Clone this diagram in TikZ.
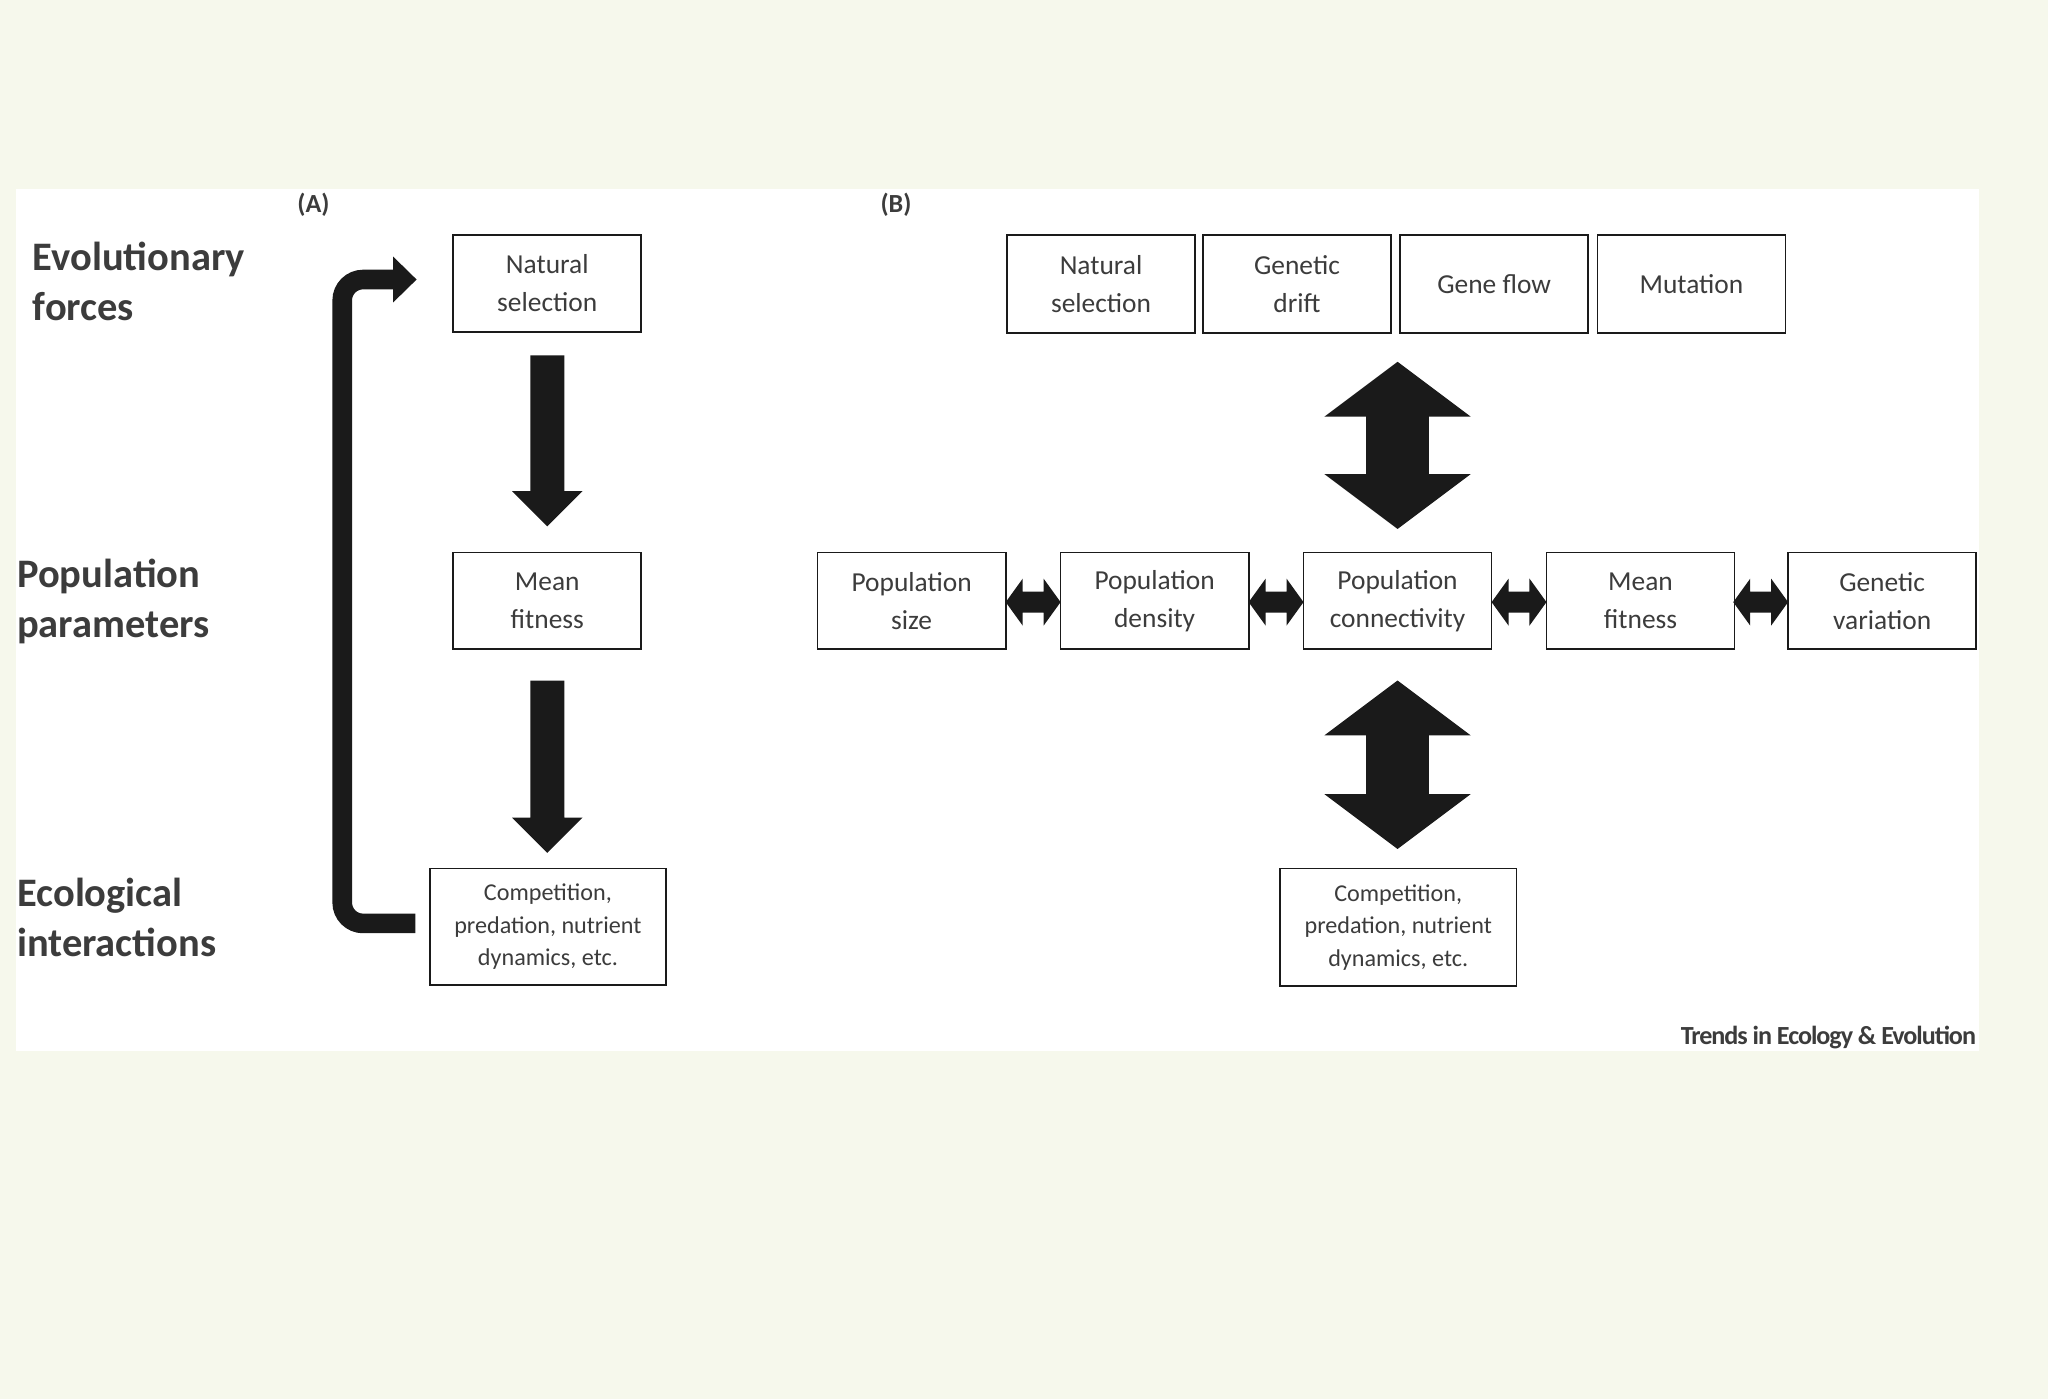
\documentclass[tikz,border=0pt]{standalone}
\usepackage{fontspec}
\setmainfont{Carlito}
\usetikzlibrary{arrows.meta}
\definecolor{bg}{HTML}{F6F8EC}
\definecolor{ink}{HTML}{1A1A1A}
\begin{document}
\begin{tikzpicture}[x=1pt,y=-1pt,
  box/.style={draw=ink,line width=1.3pt,fill=white,inner sep=0pt,align=center,font=\fontsize{21}{29}\selectfont,text=ink!85},
  sbox/.style={box,font=\fontsize{18.5}{25}\selectfont},
  lab/.style={anchor=north west,align=left,font=\bfseries\fontsize{31}{38}\selectfont,text=ink!85,inner sep=0pt}]
\fill[bg] (0,0) rectangle (1568,1071);
\useasboundingbox (0,0) rectangle (1568,1071);
\fill[white] (12,145) rectangle (1515,805);
\node[font=\bfseries\fontsize{20}{24}\selectfont,text=ink!85] (la) at (240,157) {(A)};
\node[font=\bfseries\fontsize{20}{24}\selectfont,text=ink!85] (lb) at (686,157) {(B)};
\node[lab] (l1) at (25,185) {Evolutionary\\forces};
\node[lab] (l2) at (13,428) {Population\\parameters};
\node[lab] (l3) at (13,672) {Ecological\\interactions};
% (A)
\node[box,minimum width=144pt,minimum height=74pt] (ans) at (419,217) {Natural\\selection};
\node[box,minimum width=144pt,minimum height=74pt] (amf) at (419,460) {Mean\\fitness};
\node[sbox,minimum width=181pt,minimum height=89pt] (acp) at (419.5,709.5) {Competition,\\predation, nutrient\\dynamics, etc.};
\fill[ink] (406,272) -- (432,272) -- (432,376) -- (446,376) -- (419,403) -- (392,376) -- (406,376) -- cycle;
\fill[ink] (406,521) -- (432,521) -- (432,626) -- (446,626) -- (419,653) -- (392,626) -- (406,626) -- cycle;
\coordinate (fb1) at (318,707);
\coordinate (fb2) at (319,214);
\draw[ink,line width=15pt,rounded corners=16pt,-{Triangle[width=34pt,length=18pt]}] (fb1) -- (262,707) -- (262,214) -- (fb2);
% (B)
\foreach \n/\x/\t in {bns/843/{Natural\\selection},bgd/993/{Genetic\\drift},bgf/1144/{Gene flow},bmu/1295/{Mutation}}
  \node[box,minimum width=144pt,minimum height=75pt] (\n) at (\x,217.5) {\t};
\foreach \n/\x/\t in {bps/698/{Population\\size},bpd/884/{Population\\density},bpc/1070/{Population\\connectivity},bmf/1256/{Mean\\fitness},bgv/1441/{Genetic\\variation}}
  \node[box,minimum width=144pt,minimum height=74pt] (\n) at (\x,460) {\t};
\node[sbox,minimum width=181pt,minimum height=90pt] (bcp) at (1070.5,710) {Competition,\\predation, nutrient\\dynamics, etc.};
% small double arrows
\foreach \cx in {791,977,1163,1348}
  \fill[ink] (\cx-21,461) -- (\cx-8,443) -- (\cx-8,453) -- (\cx+8,453) -- (\cx+8,443) -- (\cx+21,461) -- (\cx+8,479) -- (\cx+8,469) -- (\cx-8,469) -- (\cx-8,479) -- cycle;
% big double arrows
\foreach \t/\b in {277/405,521/650}
  \fill[ink] (1070,\t) -- (1126,\t+42) -- (1094,\t+42) -- (1094,\b-42) -- (1126,\b-42) -- (1070,\b) -- (1014,\b-42) -- (1046,\b-42) -- (1046,\t+42) -- (1014,\t+42) -- cycle;
\node[anchor=east,font=\bfseries\fontsize{20}{24}\selectfont,text=ink!85,inner sep=0pt] (ft) at (1513,794) {\addfontfeatures{LetterSpace=-4}Trends in Ecology \& Evolution};
\end{tikzpicture}
\end{document}
